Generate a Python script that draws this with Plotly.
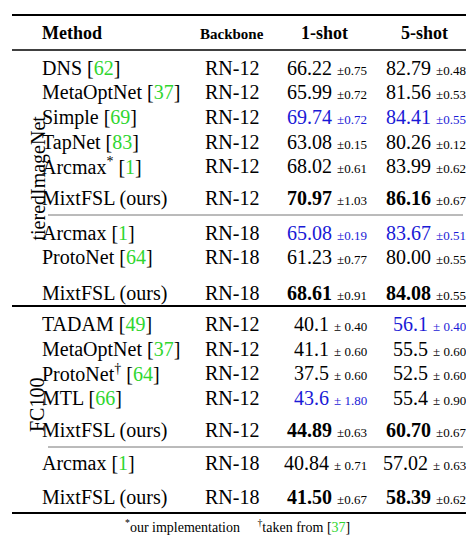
import re
import plotly.graph_objects as go

GREEN = "#2fd62f"
BLUE = "#1a1ad6"

# table content
methods = ["DNS [62]", "MetaOptNet [37]", "Simple [69]", "TapNet [83]", "Arcmax* [1]", "MixtFSL (ours)",
           "Arcmax [1]", "ProtoNet [64]", "MixtFSL (ours)",
           "TADAM [49]", "MetaOptNet [37]", "ProtoNet† [64]", "MTL [66]", "MixtFSL (ours)",
           "Arcmax [1]", "MixtFSL (ours)"]
backbones = ["RN-12"] * 6 + ["RN-18"] * 3 + ["RN-12"] * 5 + ["RN-18"] * 2
shot1 = ["66.22", "65.99", "69.74", "63.08", "68.02", "70.97", "65.08", "61.23", "68.61",
         "40.1", "41.1", "37.5", "43.6", "44.89", "40.84", "41.50"]
shot1_ci = ["±0.75", "±0.72", "±0.72", "±0.15", "±0.61", "±1.03", "±0.19", "±0.77", "±0.91",
            "± 0.40", "± 0.60", "± 0.60", "± 1.80", "±0.63", "± 0.71", "±0.67"]
shot5 = ["82.79", "81.56", "84.41", "80.26", "83.99", "86.16", "83.67", "80.00", "84.08",
         "56.1", "55.5", "52.5", "55.4", "60.70", "57.02", "58.39"]
shot5_ci = ["±0.48", "±0.53", "±0.55", "±0.12", "±0.62", "±0.67", "±0.51", "±0.55", "±0.55",
            "± 0.40", "± 0.60", "± 0.60", "± 0.90", "±0.67", "± 0.63", "±0.62"]
# 'b' bold, 'c' blue, '' plain
style1 = ["", "", "c", "", "", "b", "c", "", "b", "", "", "", "c", "b", "", "b"]
style5 = ["", "", "c", "", "", "b", "c", "", "b", "c", "", "", "", "b", "", "b"]

row_y = [68, 92, 117, 142, 166, 198, 233, 257, 293, 324, 349, 373, 398, 430, 463, 497]

FONT = "Liberation Serif, Times New Roman, serif"
ann = []


def add(x, y, text, size=20, anchor="left", color="black", angle=0):
    ann.append(dict(x=x, y=y, text=text, showarrow=False, xanchor=anchor, yanchor="middle",
                    textangle=angle, font=dict(family=FONT, size=size, color=color)))


def fmt_method(m):
    m = m.replace("†", "<sup>†</sup>").replace("*", "<sup>*</sup>")
    return re.sub(r"\[(\d+)\]", r"[<span style='color:%s'>\1</span>]" % GREEN, m)


def fmt_val(v, ci, st):
    main = "<b>%s</b>" % v if st == "b" else v
    col = BLUE if st == "c" else "black"
    return "<span style='color:%s'>%s <span style='font-size:13px'>%s</span></span>" % (col, main, ci)


add(0, 4, "confidence intervals over 600 episodes.", size=17)
add(40, 33, "<b>Method</b>", size=18)
add(232, 34, "<b>Backbone</b>", size=15, anchor="center")
add(324, 33, "<b>1-shot</b>", size=18, anchor="center")
add(424, 33, "<b>5-shot</b>", size=18, anchor="center")

for i, y in enumerate(row_y):
    add(40, y, fmt_method(methods[i]))
    add(232, y, backbones[i], anchor="center")
    add(369, y, fmt_val(shot1[i], shot1_ci[i], style1[i]), anchor="right")
    add(468, y, fmt_val(shot5[i], shot5_ci[i], style5[i]), anchor="right")

add(24, 178, "tieredImageNet", angle=-90)
add(24, 405, "FC100", angle=-90)
add(237, 526, "<sup>*</sup>our implementation     <sup>†</sup>taken from [<span style='color:%s'>37</span>]" % GREEN,
    size=14, anchor="center")

shapes = []
for y, w, x0, x1, c in [(15, 2, 12, 474, "black"), (50, 1.3, 12, 474, "black"),
                        (215, 1, 48, 463, "#777"), (306, 2, 12, 474, "black"),
                        (447, 1, 48, 463, "#777"), (513, 2, 12, 474, "black")]:
    shapes.append(dict(type="line", x0=x0, x1=x1, y0=y, y1=y, line=dict(color=c, width=w)))

fig = go.Figure()
fig.update_layout(width=474, height=536, margin=dict(l=0, r=0, t=0, b=0),
                  plot_bgcolor="white", paper_bgcolor="white",
                  annotations=ann, shapes=shapes, showlegend=False)
# page body has an 8px margin, so shift the coordinate frame to match the window
fig.update_xaxes(range=[8, 482], visible=False)
fig.update_yaxes(range=[544, 8], visible=False)
fig.write_html("out.html")
